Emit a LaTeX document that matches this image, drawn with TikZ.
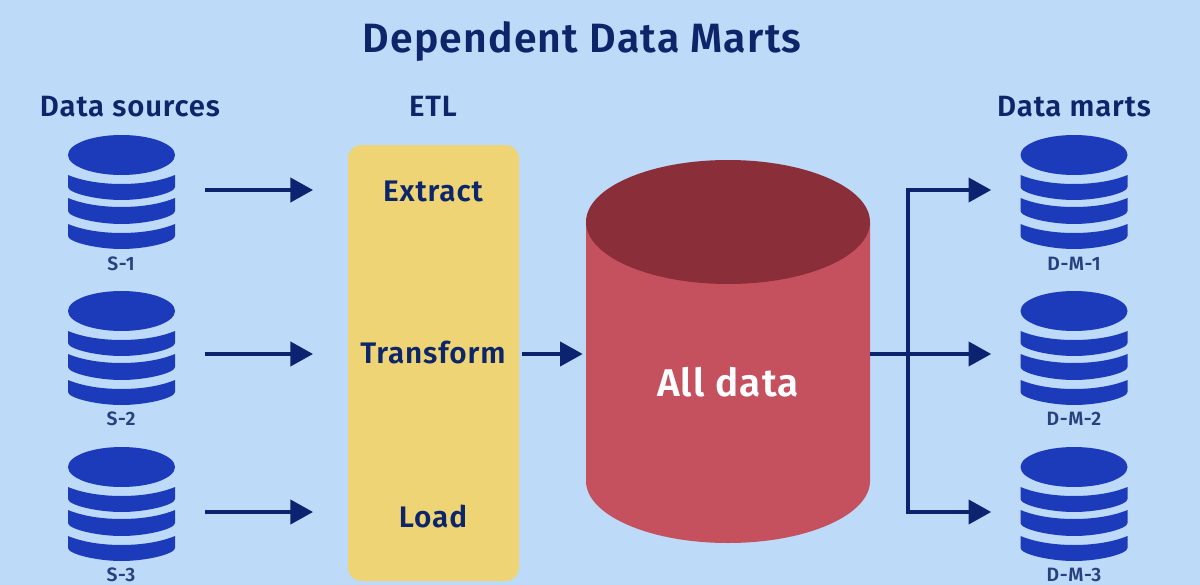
\documentclass[tikz,border=0pt]{standalone}
\usepackage{fontspec}
\setmainfont{Fira Sans}[BoldFont={Fira Sans SemiBold},LetterSpace=3]
\usetikzlibrary{arrows.meta}
\definecolor{bgblue}{HTML}{BEDAF9}
\definecolor{iconblue}{HTML}{1C3BBB}
\definecolor{navy}{HTML}{0C2470}
\definecolor{textnavy}{HTML}{0D2669}
\definecolor{etlyellow}{HTML}{EED475}
\definecolor{cylbody}{HTML}{C5515F}
\definecolor{cyltop}{HTML}{8A2F3A}
\tikzset{
  x=0.75pt,y=-0.75pt,
  hdr/.style={text=textnavy,font=\fontsize{22}{24}\selectfont\bfseries,inner sep=0pt,anchor=base},
  etltxt/.style={text=textnavy,font=\fontsize{22.3}{24}\selectfont\bfseries,inner sep=0pt,anchor=base},
  small/.style={text=textnavy!85!bgblue,font=\fontsize{14.5}{15}\selectfont\bfseries,inner sep=0pt,anchor=base},
  iconbox/.style={minimum width=80.25pt,minimum height=85.5pt,inner sep=0pt},
  flow/.style={draw=navy,line width=3pt,-{Triangle[length=17pt,width=18pt]}},
  trunk/.style={draw=navy,line width=3pt},
  dbicon/.pic={
    \fill[iconblue] (0,-37) ellipse [x radius=53.5,y radius=20];
    \fill[iconblue] (-53.5,-17) .. controls (-25,-5) and (25,-5) .. (53.5,-17) -- (53.5,-5)
      .. controls (53.5,1) and (25,8) .. (0,8) .. controls (-25,8) and (-53.5,1) .. (-53.5,-5) -- cycle;
    \fill[iconblue] (-53.5,6) .. controls (-25,18) and (25,18) .. (53.5,6) -- (53.5,19)
      .. controls (53.5,25) and (25,32) .. (0,32) .. controls (-25,32) and (-53.5,25) .. (-53.5,19) -- cycle;
    \fill[iconblue] (-53.5,32) .. controls (-25,44) and (25,44) .. (53.5,32) -- (53.5,44)
      .. controls (53.5,50) and (25,57) .. (0,57) .. controls (-25,57) and (-53.5,50) .. (-53.5,44) -- cycle;
  }
}
\begin{document}
\begin{tikzpicture}
\path[use as bounding box,fill=bgblue] (0,0) rectangle (1200,585);
\coordinate (r1) at (0,190);
\coordinate (r2) at (0,354);
\coordinate (r3) at (0,512);
% title and headers
\node[text=textnavy,font=\fontsize{30.7}{32}\selectfont\bfseries,inner sep=0pt,anchor=base] (title) at (582,53) {Dependent Data Marts};
\node[hdr] (hsrc) at (130,117) {Data sources};
\node[hdr] (hetl) at (433,117) {ETL};
\node[hdr] (hmart) at (1074,117) {Data marts};
% ETL
\node[fill=etlyellow,rounded corners=10pt,minimum width=128.25pt,minimum height=327pt,inner sep=0pt] (etl) at (433.5,363) {};
\node[etltxt] (ext) at (433,201) {Extract};
\node[etltxt] (tra) at (433,363) {Transform};
\node[etltxt] (loa) at (433,527) {Load};
% cylinder
\fill[cylbody] (586,222) -- (586,481) arc [start angle=180,end angle=0,x radius=142,y radius=62] -- (870,222) -- cycle;
\fill[cyltop] (728,222) ellipse [x radius=142,y radius=62];
\node[text=white,font=\fontsize{29}{30}\selectfont\bfseries,inner sep=0pt,anchor=base] (all) at (728,396) {All data};
\node[minimum width=213pt,minimum height=287pt,inner sep=0pt] (cyl) at (728,351.5) {};
% icons
\node[iconbox] (s1) at (121.5,192) {};
\node[iconbox] (s2) at (121.5,348) {};
\node[iconbox] (s3) at (121.5,504) {};
\node[iconbox] (d1) at (1074,192) {};
\node[iconbox] (d2) at (1074,348) {};
\node[iconbox] (d3) at (1074,504) {};
\pic at (s1) {dbicon};
\pic at (s2) {dbicon};
\pic at (s3) {dbicon};
\pic at (d1) {dbicon};
\pic at (d2) {dbicon};
\pic at (d3) {dbicon};
\node[small] (ls1) at (121,270) {S-1};
\node[small] (ls2) at (121,425) {S-2};
\node[small] (ls3) at (121,581) {S-3};
\node[small] (ld1) at (1074,270) {D-M-1};
\node[small] (ld2) at (1074,425) {D-M-2};
\node[small] (ld3) at (1074,581) {D-M-3};
% connectors
\draw[flow,shorten <=22.5pt,shorten >=26pt] (s1.east |- r1) -- (etl.west |- r1);
\draw[flow,shorten <=22.5pt,shorten >=26pt] (s2.east |- r2) -- (etl.west |- r2);
\draw[flow,shorten <=22.5pt,shorten >=26pt] (s3.east |- r3) -- (etl.west |- r3);
\draw[flow,shorten <=2.25pt,shorten >=2.25pt] (etl.east |- r2) -- (cyl.west |- r2);
\coordinate (fork) at (908,354);
\draw[flow,shorten >=21.75pt] (cyl.east |- r2) -- (d2.west |- r2);
\draw[flow,shorten >=21.75pt] (fork |- r1) -- (d1.west |- r1);
\draw[flow,shorten >=21.75pt] (fork |- r3) -- (d3.west |- r3);
\draw[trunk,line cap=rect] (fork |- r1) -- (fork |- r3);
\end{tikzpicture}
\end{document}
